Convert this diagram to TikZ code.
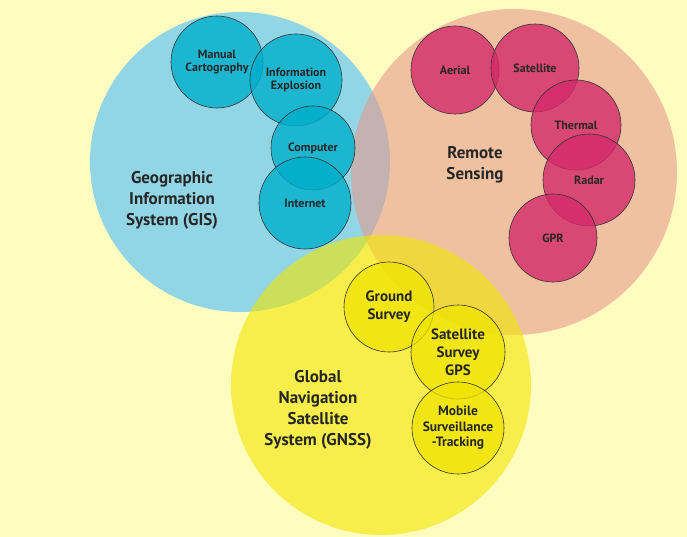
\documentclass[tikz,border=0pt]{standalone}
\usepackage{fontspec}
\setmainfont{PT Sans}
\begin{document}
\begin{tikzpicture}[x=1pt,y=-1pt,
  big/.style={circle,minimum size=#1,inner sep=0pt},
  sm/.style={circle,draw=black!80,line width=0.6pt,minimum size=#1,inner sep=0pt,align=center,font=\bfseries\fontsize{12}{13.5}\selectfont,text=black!85},
  ysm/.style={font=\bfseries\fontsize{15}{18}\selectfont},
  lab/.style={align=center,font=\bfseries\fontsize{17}{21}\selectfont,text=black!85}]
\fill[yellow!25] (0,0) rectangle (687,537);
\useasboundingbox (0,0) rectangle (687,537);
\definecolor{gisc}{HTML}{7FD0EC}
\definecolor{rsc}{HTML}{E59A8E}
\definecolor{gnc}{HTML}{F2E600}
\definecolor{bsm}{HTML}{00AECB}
\definecolor{psm}{HTML}{D42A6A}
\definecolor{ysmc}{HTML}{EFE400}
\node[big=300pt,fill=gisc,fill opacity=0.85] (gis) at (240,162) {};
\node[big=326pt,fill=rsc,fill opacity=0.6] (rs) at (514,172) {};
\node[big=300pt,fill=gnc,fill opacity=0.6] (gn) at (381,385) {};
\node[lab] (gisl) at (172,200) {Geographic\\Information\\System (GIS)};
\node[lab] (rsl) at (475,165) {Remote\\Sensing};
\node[lab] (gnl) at (318,410) {Global\\Navigation\\Satellite\\System (GNSS)};
\begin{scope}[every node/.append style={fill opacity=0.8,text opacity=1}]
\node[sm=92pt,fill=bsm] (mc) at (217,62) {Manual\\Cartography};
\node[sm=92pt,fill=bsm] (ie) at (296,80) {Information\\Explosion};
\node[sm=84pt,fill=bsm] (co) at (313,148) {Computer};
\node[sm=92pt,fill=bsm] (in) at (305,203) {Internet};
\node[sm=88pt,fill=psm] (ae) at (455,70) {Aerial};
\node[sm=88pt,fill=psm] (sa) at (535,68) {Satellite};
\node[sm=90pt,fill=psm] (th) at (576,125) {Thermal};
\node[sm=92pt,fill=psm] (ra) at (589,180) {Radar};
\node[sm=88pt,fill=psm] (gp) at (553,238) {GPR};
\end{scope}
\begin{scope}[every node/.append style={fill opacity=0.75,text opacity=1}]
\node[sm=90pt,fill=ysmc,ysm] (gs) at (389,307) {Ground\\Survey};
\node[sm=94pt,fill=ysmc,ysm] (ss) at (458,352) {Satellite\\Survey\\GPS};
\node[sm=92pt,fill=ysmc,font=\bfseries\fontsize{13.5}{15.5}\selectfont] (mo) at (458,428) {Mobile\\Surveillance\\-Tracking};
\end{scope}
\end{tikzpicture}
\end{document}
